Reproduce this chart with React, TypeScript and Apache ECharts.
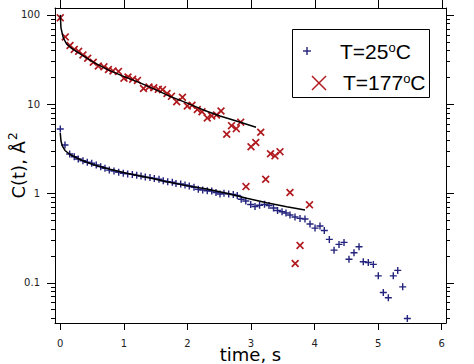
import React, { useEffect, useRef } from 'react';
import * as echarts from 'echarts';

// T = 25 °C data (time in s, C(t) in Å^2)
const tBlue = [0, 0.074, 0.148, 0.220, 0.283, 0.357, 0.425, 0.494, 0.566, 0.636,
  0.703, 0.771, 0.845, 0.919, 0.991, 1.060, 1.133, 1.202, 1.270, 1.337,
  1.411, 1.479, 1.553, 1.620, 1.690, 1.762, 1.820, 1.894, 1.962, 2.029,
  2.103, 2.171, 2.240, 2.312, 2.382, 2.449, 2.512, 2.575, 2.649, 2.721,
  2.784, 2.846, 2.918, 2.995, 3.063, 3.135, 3.212, 3.283, 3.354, 3.417,
  3.488, 3.550, 3.613, 3.692, 3.771, 3.849, 3.928, 4.007, 4.085, 4.153,
  4.232, 4.306, 4.384, 4.463, 4.541, 4.620, 4.699, 4.766, 4.845, 4.924,
  5.002, 5.081, 5.160, 5.238, 5.308, 5.386, 5.459];
const cBlue = [5.26, 3.48, 2.76, 2.57, 2.42, 2.32, 2.23, 2.17, 2.08, 1.99,
  1.91, 1.82, 1.78, 1.72, 1.68, 1.65, 1.63, 1.59, 1.56, 1.52,
  1.50, 1.47, 1.44, 1.38, 1.35, 1.33, 1.29, 1.27, 1.24, 1.21,
  1.17, 1.11, 1.09, 1.07, 1.06, 1.02, 0.982, 1.00, 0.982, 0.969,
  0.945, 0.859, 0.820, 0.749, 0.711, 0.736, 0.753, 0.730, 0.684, 0.641,
  0.622, 0.601, 0.571, 0.544, 0.524, 0.515, 0.453, 0.408, 0.430, 0.383,
  0.305, 0.231, 0.268, 0.282, 0.183, 0.216, 0.252, 0.171, 0.168, 0.160,
  0.119, 0.0776, 0.0676, 0.119, 0.137, 0.0897, 0.0397];

// T = 177 °C data
const tRed = [0, 0.079, 0.153, 0.220, 0.289, 0.357, 0.431, 0.519, 0.598, 0.687,
  0.758, 0.829, 0.916, 1.002, 1.065, 1.139, 1.214, 1.309, 1.395, 1.471,
  1.542, 1.608, 1.679, 1.749, 1.831, 1.922, 1.998, 2.072, 2.155, 2.229,
  2.312, 2.382, 2.457, 2.528, 2.618, 2.693, 2.769, 2.838, 2.921, 3.000,
  3.075, 3.153, 3.231, 3.307, 3.377, 3.456, 3.613, 3.695, 3.771, 3.920];
const cRed = [92.3, 56.5, 45.2, 40.9, 38.9, 35.5, 32.6, 29.4, 26.7, 26.1,
  24.4, 23.5, 23.2, 19.5, 20.1, 19.0, 18.4, 14.9, 15.5, 15.2,
  14.6, 14.5, 13.1, 12.2, 10.6, 11.9, 9.5, 9.7, 8.7, 8.2,
  6.98, 7.36, 7.55, 8.37, 4.59, 5.73, 5.30, 6.27, 1.19, 3.33,
  3.71, 4.83, 1.44, 2.78, 2.63, 2.93, 1.02, 0.164, 0.261, 0.743];

// fit curves
const fitBlueT = [0, 0.011, 0.032, 0.074, 0.153, 0.310, 0.519, 0.782, 1.045, 1.359,
  1.674, 1.988, 2.303, 2.618, 2.932, 3.247, 3.561, 3.849];
const fitBlueC = [4.74, 3.86, 3.39, 3.02, 2.72, 2.39, 2.09, 1.86, 1.68, 1.51,
  1.35, 1.22, 1.12, 1.00, 0.879, 0.785, 0.708, 0.650];
const fitRedT = [0, 0.011, 0.047, 0.101, 0.179, 0.337, 0.546, 0.755, 0.966, 1.227,
  1.490, 1.726, 1.988, 2.250, 2.512, 2.795, 3.079];
const fitRedC = [99.7, 71.3, 55.1, 46.8, 42.0, 35.5, 28.7, 24.1, 20.8, 17.6,
  14.6, 12.2, 10.3, 8.59, 7.36, 6.38, 5.50];

// axes
const xTicks = [0, 1, 2, 3, 4, 5, 6];
const yMajor = [0.1, 1, 10, 100];
const minorMult = [2, 3, 4, 5, 6, 7, 8, 9];
const decades = [0.01, 0.1, 1, 10];

const X_MIN = -0.083;
const X_MAX = 6.067;
const Y_MIN = Math.log10(0.0353);
const Y_MAX = Math.log10(119);

const BLUE = '#23237d';
const RED = '#b01a1f';

const PLUS = 'path://M0,3.2H8V4.8H0Z M3.2,0H4.8V8H3.2Z';
const CROSS = 'path://M0,1.5L1.5,0L5,3.5L8.5,0L10,1.5L6.5,5L10,8.5L8.5,10L5,6.5L1.5,10L0,8.5L3.5,5Z';

// grid box (pixels)
const G_LEFT = 55;
const G_RIGHT = 28;
const G_TOP = 8;
const G_BOTTOM = 41;
const W = 474;
const H = 364;

export default function App() {
  const ref = useRef<HTMLDivElement>(null);
  useEffect(() => {
    const chart = echarts.init(ref.current as HTMLDivElement, null, { renderer: 'svg' });
    const lg = (v: number) => Math.log10(v);
    const majorVals = yMajor.map(lg);
    const minorVals = decades
      .flatMap((d) => minorMult.map((m) => lg(m * d)))
      .filter((v) => v > Y_MIN && v < Y_MAX);
    const fmt = (v: number) => String(parseFloat(Math.pow(10, v).toPrecision(3)));
    const axisLine = { show: true, onZero: false, lineStyle: { color: '#000', width: 1 } };
    const tickLine = { color: '#000', width: 1 };
    const labelStyle = { fontSize: 10, fontFamily: 'DejaVu Sans', color: '#222' };

    // linear maps of the grid (same as the value axes' own scales)
    const gx0 = G_LEFT;
    const gx1 = W - G_RIGHT;
    const gy0 = G_TOP;
    const gy1 = H - G_BOTTOM;
    const xPix = (v: number) => gx0 + ((v - X_MIN) / (X_MAX - X_MIN)) * (gx1 - gx0);
    const yPix = (v: number) => gy1 - ((v - Y_MIN) / (Y_MAX - Y_MIN)) * (gy1 - gy0);

    const st = { stroke: '#000', lineWidth: 1 };
    const tickGraphics: any[] = [];
    const addY = (v: number, len: number) => {
      const y = Math.round(yPix(v)) + 0.5;
      tickGraphics.push({ type: 'line', z: 20, silent: true, shape: { x1: gx0 - len, y1: y, x2: gx0, y2: y }, style: st });
      tickGraphics.push({ type: 'line', z: 20, silent: true, shape: { x1: gx1, y1: y, x2: gx1 + len, y2: y }, style: st });
    };
    majorVals.forEach((v) => addY(v, 8));
    minorVals.forEach((v) => addY(v, 4));
    xTicks.forEach((v) => {
      const x = Math.round(xPix(v)) + 0.5;
      tickGraphics.push({ type: 'line', z: 20, silent: true, shape: { x1: x, y1: 0, x2: x, y2: gy0 }, style: st });
    });

    const legendGraphics: any[] = [
      {
        type: 'rect', z: 10,
        shape: { x: 292.5, y: 29.5, width: 137, height: 68 },
        style: { fill: '#fff', stroke: '#000', lineWidth: 1 },
      },
      { type: 'line', z: 11, shape: { x1: 303, y1: 51, x2: 311, y2: 51 }, style: { stroke: BLUE, lineWidth: 1.4 } },
      { type: 'line', z: 11, shape: { x1: 307, y1: 47, x2: 307, y2: 55 }, style: { stroke: BLUE, lineWidth: 1.4 } },
      { type: 'line', z: 11, shape: { x1: 312, y1: 76, x2: 326, y2: 90 }, style: { stroke: RED, lineWidth: 1.5 } },
      { type: 'line', z: 11, shape: { x1: 326, y1: 76, x2: 312, y2: 90 }, style: { stroke: RED, lineWidth: 1.5 } },
      {
        type: 'text', z: 11, x: 340, y: 51,
        style: {
          text: '{a|T=25}{o|o}{a|C}', verticalAlign: 'middle', align: 'left',
          rich: {
            a: { fontSize: 21, fontFamily: 'Liberation Sans', fill: '#000' },
            o: { fontSize: 13, fontFamily: 'Liberation Sans', fill: '#000', padding: [0, 0, 8, 0] },
          },
        },
      },
      {
        type: 'text', z: 11, x: 343, y: 82,
        style: {
          text: '{a|T=177}{o|o}{a|C}', verticalAlign: 'middle', align: 'left',
          rich: {
            a: { fontSize: 21, fontFamily: 'Liberation Sans', fill: '#000' },
            o: { fontSize: 13, fontFamily: 'Liberation Sans', fill: '#000', padding: [0, 0, 8, 0] },
          },
        },
      },
    ];

    const option: any = {
      animation: false,
      backgroundColor: '#fff',
      grid: {
        left: G_LEFT, right: G_RIGHT, top: G_TOP, bottom: G_BOTTOM,
        containLabel: false, outerBoundsMode: 'none',
      },
      xAxis: [
        {
          type: 'value', min: X_MIN, max: X_MAX, position: 'bottom', axisLine,
          splitLine: { show: false },
          axisTick: { show: true, length: 7, customValues: xTicks, lineStyle: tickLine },
          axisLabel: { show: true, customValues: xTicks, margin: 15, ...labelStyle },
          name: 'time, s', nameLocation: 'middle', nameGap: 22, nameMoveOverlap: false,
          nameTextStyle: { fontSize: 18, fontFamily: 'DejaVu Sans', color: '#000' },
        },
        {
          type: 'value', min: X_MIN, max: X_MAX, position: 'top', axisLine,
          splitLine: { show: false }, axisTick: { show: false }, axisLabel: { show: false },
        },
      ],
      yAxis: [
        {
          type: 'value', min: Y_MIN, max: Y_MAX, position: 'left', axisLine,
          splitLine: { show: false },
          axisTick: { show: false },
          axisLabel: { show: true, customValues: majorVals, formatter: fmt, margin: 15, ...labelStyle },
          name: '{a|C(t), Å}{s|2}', nameLocation: 'middle', nameGap: 26, nameRotate: 90,
          nameMoveOverlap: false,
          nameTextStyle: {
            color: '#000',
            rich: {
              a: { fontSize: 18, fontFamily: 'DejaVu Sans', color: '#000' },
              s: { fontSize: 12, fontFamily: 'DejaVu Sans', color: '#000', padding: [0, 0, 10, 1] },
            },
          },
        },
        {
          type: 'value', min: Y_MIN, max: Y_MAX, position: 'right', axisLine,
          splitLine: { show: false }, axisTick: { show: false }, axisLabel: { show: false },
        },
      ],
      series: [
        {
          type: 'scatter', name: 'T=25°C', xAxisIndex: 0, yAxisIndex: 0,
          symbol: PLUS, symbolSize: 7,
          itemStyle: { color: BLUE, opacity: 1 },
          data: tBlue.map((t, i) => [t, lg(cBlue[i])]),
          z: 2,
        },
        {
          type: 'scatter', name: 'T=177°C', xAxisIndex: 0, yAxisIndex: 0,
          symbol: CROSS, symbolSize: 8,
          itemStyle: { color: RED, opacity: 1 },
          data: tRed.map((t, i) => [t, lg(cRed[i])]),
          z: 2,
        },
        {
          type: 'line', xAxisIndex: 0, yAxisIndex: 0, showSymbol: false, symbol: 'none',
          lineStyle: { color: '#000', width: 1.5 },
          data: fitBlueT.map((t, i) => [t, lg(fitBlueC[i])]),
          z: 3,
        },
        {
          type: 'line', xAxisIndex: 0, yAxisIndex: 0, showSymbol: false, symbol: 'none',
          lineStyle: { color: '#000', width: 1.5 },
          data: fitRedT.map((t, i) => [t, lg(fitRedC[i])]),
          z: 3,
        },
      ],
      graphic: { elements: [...legendGraphics, ...tickGraphics] },
    };
    chart.setOption(option);
    return () => chart.dispose();
  }, []);
  return (
    <div
      ref={ref}
      style={{ position: 'absolute', left: 0, top: 0, width: W, height: H }}
    />
  );
}
